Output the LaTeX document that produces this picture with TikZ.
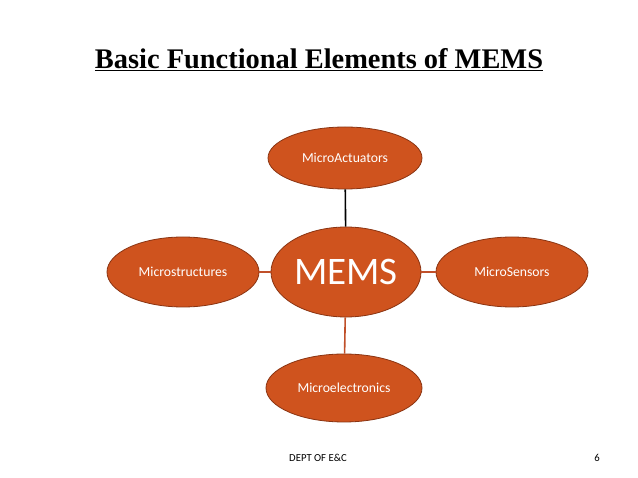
\documentclass[tikz,border=0pt]{standalone}
\usepackage{fontspec}
\setmainfont{Liberation Serif}
\newfontfamily\carl{Carlito}
\usetikzlibrary{shapes.geometric}
\definecolor{ofill}{HTML}{CF531E}
\definecolor{oedge}{HTML}{8A3412}
\definecolor{oline}{HTML}{C0502A}
\begin{document}
\begin{tikzpicture}[x=1pt,y=-1pt,
  el/.style={ellipse,draw=oedge,line width=0.8pt,fill=ofill,text=white,font=\carl\fontsize{13.7}{16}\selectfont,inner sep=0pt},
  conn/.style={line width=1.6pt}]
\useasboundingbox[fill=white] (0,0) rectangle (638,478);
\node[font=\bfseries\fontsize{28.4}{32}\selectfont] (title) at (319,60) {\underline{Basic Functional Elements of MEMS}};
\node[el,minimum width=154pt,minimum height=62pt] (act) at (345,158) {MicroActuators};
\node[el,minimum width=150pt,minimum height=90pt,font=\carl\fontsize{39}{42}\selectfont] (mems) at (346,272) {MEMS};
\node[el,minimum width=152pt,minimum height=70pt] (str) at (183,272) {Microstructures};
\node[el,minimum width=152pt,minimum height=70pt] (sen) at (512,272) {MicroSensors};
\node[el,minimum width=156pt,minimum height=68pt] (ele) at (344,388) {Microelectronics};
\draw[conn,black] (act) -- (mems);
\draw[conn,oline] (str) -- (mems);
\draw[conn,oline] (mems) -- (sen);
\draw[conn,oline] (mems) -- (ele);
\node[font=\carl\fontsize{10.7}{12}\selectfont] (dept) at (318,458) {DEPT OF E\&C};
\node[font=\carl\fontsize{10.7}{12}\selectfont] (pg) at (597,458) {6};
\end{tikzpicture}
\end{document}
